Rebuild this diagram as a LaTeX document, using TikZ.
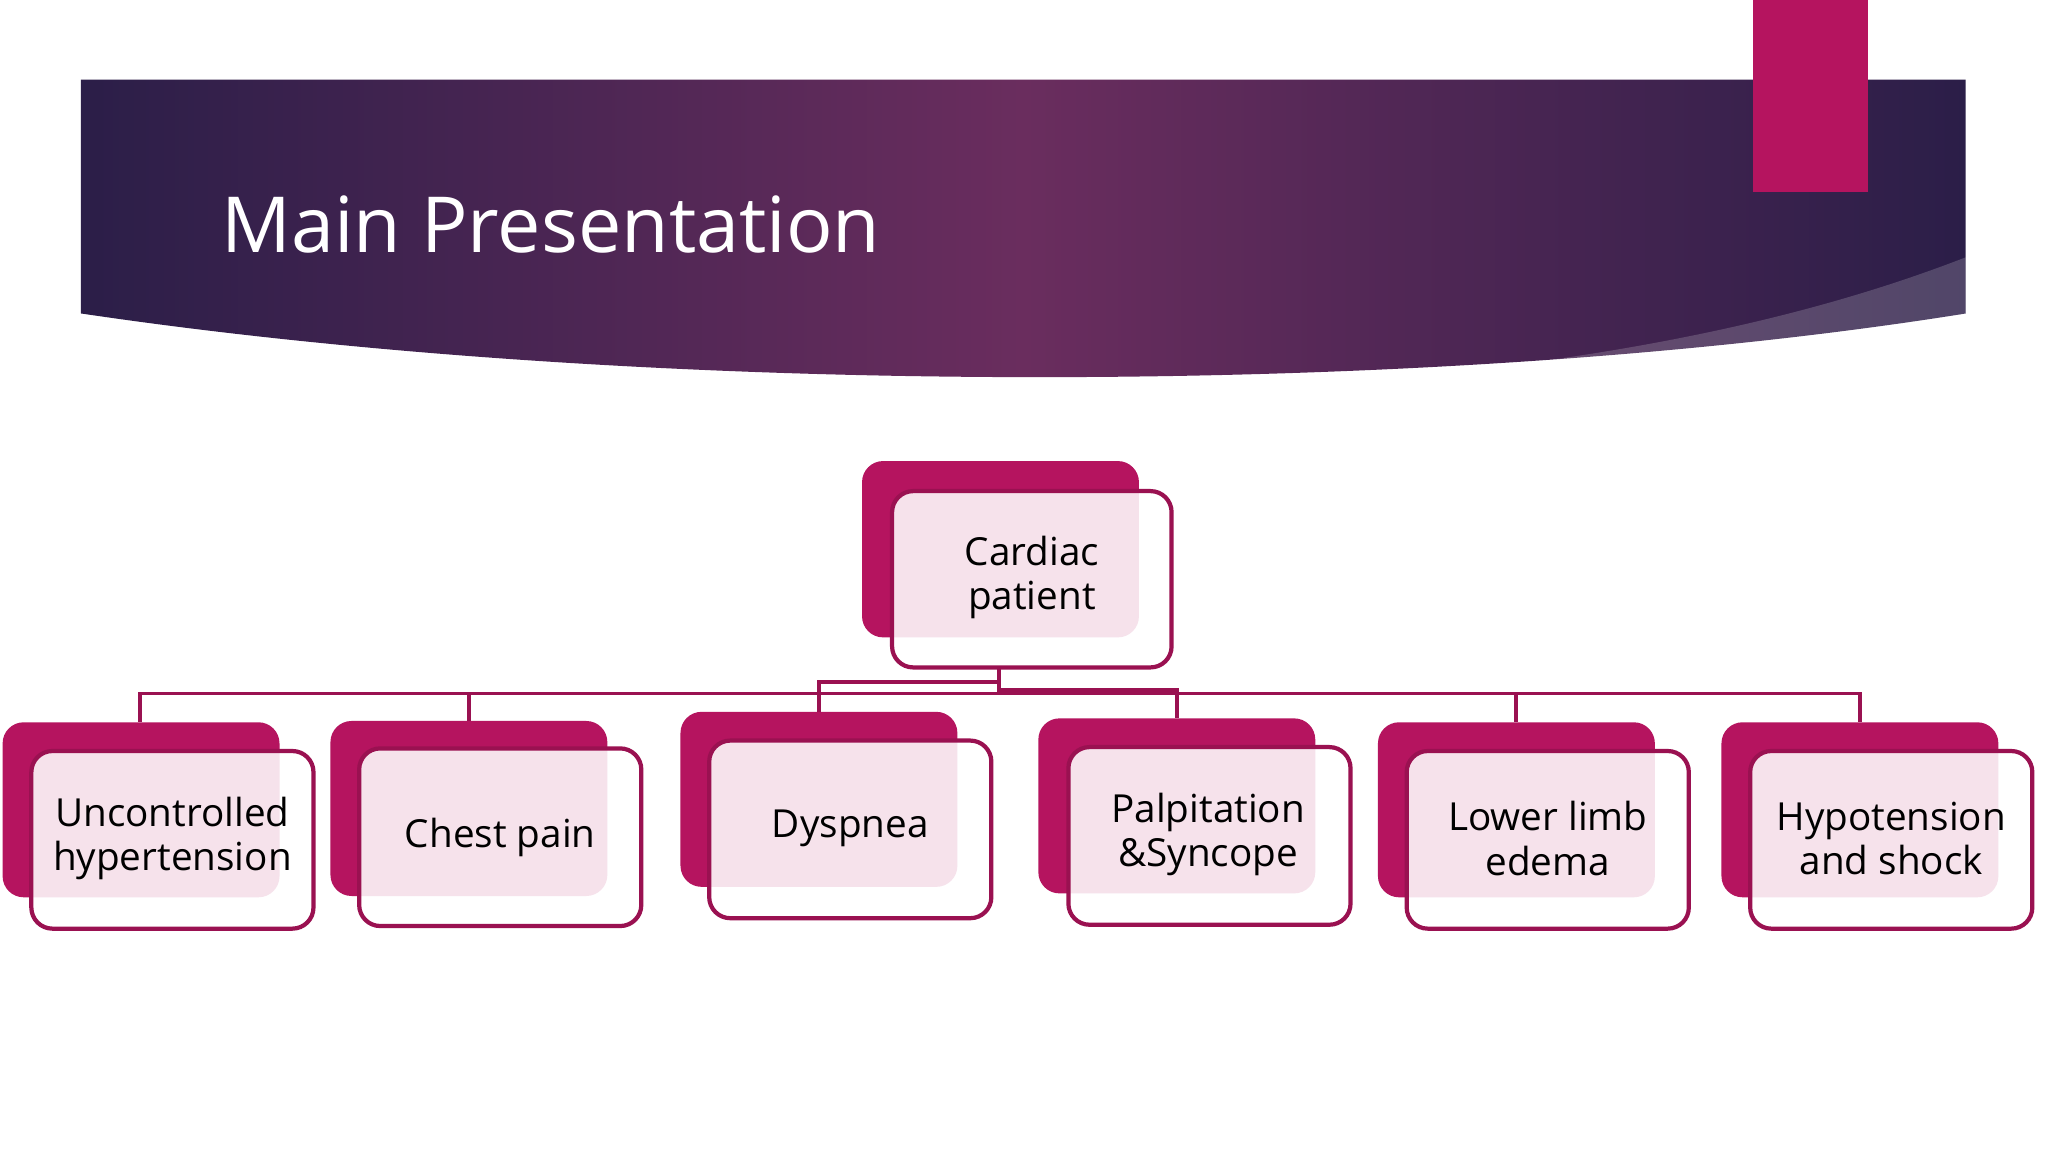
\documentclass[tikz,border=0pt]{standalone}
\usepackage{fontspec}
\setmainfont{Open Sans}
\begin{document}
\begin{tikzpicture}[x=0.013061cm,y=-0.013061cm,
  back/.style={fill=mag,rounded corners=6pt},
  front/.style={draw=mag!85!black,line width=1.2pt,fill=white,fill opacity=0.88,rounded corners=6pt},
  lab/.style={font=\fontsize{11}{12.6}\selectfont,align=center,text=black},
  conn/.style={draw=mag!85!black,line width=1.1pt}]
\definecolor{mag}{HTML}{B5145F}
\definecolor{pdark}{HTML}{2B1E48}
\definecolor{pmid}{HTML}{6A2D5E}
\useasboundingbox (0,0) rectangle (1568,882);
\fill[white] (0,0) rectangle (1568,882);
% banner
\shade[left color=pdark,right color=pdark,middle color=pmid]
  (62,61) -- (1505,61) -- (1505,240) .. controls (1100,305) and (500,305) .. (62,240) -- cycle;
\fill[white,opacity=0.18] (1120,284) .. controls (1300,264) and (1420,230) .. (1505,197) -- (1505,240) .. controls (1400,258) and (1250,274) .. (1120,284) -- cycle;
\fill[mag] (1342,0) rectangle (1430,147);
\node[anchor=base west,text=white,font=\fontsize{22}{26}\selectfont] (title) at (160,193) {Main Presentation};
% parent
\fill[back] (660,353) rectangle (872,488);
\path[front] (683,376) rectangle (897,511);
\node[lab] (p) at (790,442) {Cardiac\\patient};
\coordinate (pb) at (765,511);
% children
\foreach \n/\bx/\by/\fx/\fy/\t/\cx in {
 a/2/553/24/575/{Uncontrolled\\hypertension}/107,
 b/253/552/275/573/{Chest pain}/359,
 c/521/545/543/567/{Dyspnea}/627,
 d/795/550/818/572/{Palpitation\\\&Syncope}/901,
 e/1055/553/1077/575/{Lower limb\\edema}/1161,
 f/1318/553/1340/575/{Hypotension\\and shock}/1424}{
  \fill[back] (\bx,\by) rectangle ++(212,134);
  \path[front] (\fx,\fy) rectangle ++(216,136);
  \node[lab] (\n) at (\bx+130,\by+89) {\t};
  \coordinate (\n t) at (\cx,\by);
}
\draw[conn] (pb) -- (765,531) -| (at);
\draw[conn] (pb) -- (765,531) -| (bt);
\draw[conn] (pb) -- (765,522) -| (ct);
\draw[conn] (pb) -- (765,528) -| (dt);
\draw[conn] (pb) -- (765,531) -| (et);
\draw[conn] (pb) -- (765,531) -| (ft);
\end{tikzpicture}
\end{document}
